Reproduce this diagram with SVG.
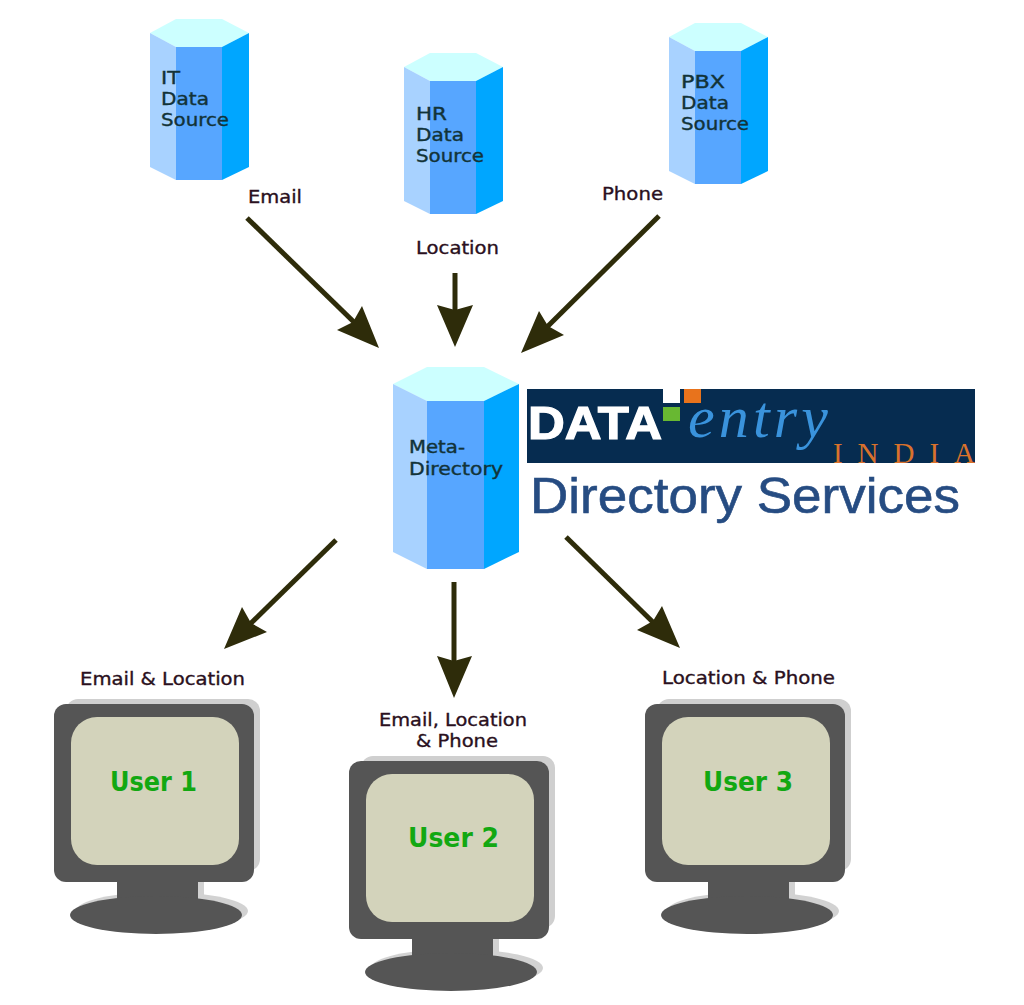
<svg xmlns="http://www.w3.org/2000/svg" width="1024" height="1005" viewBox="0 0 1024 1005">
<style>
.lbl{font-family:"DejaVu Sans","Liberation Sans",sans-serif;font-size:17.5px;fill:#2a1020;stroke:#2a1020;stroke-width:.35}
.src{font-family:"DejaVu Sans","Liberation Sans",sans-serif;font-size:18px;fill:#123338;stroke:#123338;stroke-width:.4}
.meta{font-size:17.5px}
.usr{font-family:"DejaVu Sans","Liberation Sans",sans-serif;font-size:27px;font-weight:bold;fill:#12a812}
.line{stroke:#2e2c0a;stroke-width:5;fill:none}
.head{fill:#2e2c0a}
</style>
<defs>
<g id="monitor">
<rect x="66" y="699" width="194" height="172" rx="12" fill="#cfcfcf"/>
<ellipse cx="162" cy="911" rx="86" ry="19" fill="#d2d2d2"/>
<rect x="123" y="875" width="81" height="30" fill="#d2d2d2"/>
<rect x="54" y="704" width="200" height="178" rx="12" fill="#555555"/>
<rect x="117" y="880" width="81" height="30" fill="#555555"/>
<ellipse cx="156" cy="915" rx="86" ry="19" fill="#555555"/>
<rect x="71" y="717" width="168" height="148" rx="26" fill="#d3d3bb"/>
</g>
<g id="cyl">
<polygon points="150,33 176,19 222,19 249,33 222,47 176,47" fill="#ccffff"/>
<polygon points="150,33 176,47 176,180 150,167" fill="#a8d2ff"/>
<rect x="176" y="47" width="46" height="133" fill="#57a6ff"/>
<polygon points="222,47 249,33 249,167 222,180" fill="#00a6ff"/>
</g>
</defs>
<rect width="1024" height="1005" fill="#ffffff"/>
<g id="connectors">
<line class="line" x1="247" y1="218" x2="358" y2="326"/>
<polygon class="head" points="362,306 379,348 337,330 353,322"/>
<line class="line" x1="455" y1="273" x2="455" y2="320"/>
<polygon class="head" points="437,305 455,310 473,305 455,347"/>
<line class="line" x1="659" y1="216" x2="543" y2="331"/>
<polygon class="head" points="539,311 548,326 564,335 521,353"/>
<line class="line" x1="336" y1="540" x2="244" y2="630"/>
<polygon class="head" points="242,607 251,623 267,632 224,649"/>
<line class="line" x1="454" y1="582" x2="454" y2="670"/>
<polygon class="head" points="437,656 454,661 472,656 454,698"/>
<line class="line" x1="566" y1="537" x2="662" y2="631"/>
<polygon class="head" points="662,606 653,621 637,630 680,648"/>
</g>
<g id="it-source"><use href="#cyl"/><text class="src" x="161" y="84" textLength="19" lengthAdjust="spacingAndGlyphs">IT</text><text class="src" x="161" y="105" textLength="48" lengthAdjust="spacingAndGlyphs">Data</text><text class="src" x="161" y="126" textLength="68" lengthAdjust="spacingAndGlyphs">Source</text></g>
<g id="hr-source"><use href="#cyl" transform="translate(254,34)"/><text class="src" x="416" y="120" textLength="31" lengthAdjust="spacingAndGlyphs">HR</text><text class="src" x="416" y="141" textLength="48" lengthAdjust="spacingAndGlyphs">Data</text><text class="src" x="416" y="162" textLength="68" lengthAdjust="spacingAndGlyphs">Source</text></g>
<g id="pbx-source"><use href="#cyl" transform="translate(519,4)"/><text class="src" x="681" y="88" textLength="44" lengthAdjust="spacingAndGlyphs">PBX</text><text class="src" x="681" y="109" textLength="48" lengthAdjust="spacingAndGlyphs">Data</text><text class="src" x="681" y="130" textLength="68" lengthAdjust="spacingAndGlyphs">Source</text></g>
<g id="meta-directory">
<polygon points="393,384 427,367 484,367 519,384 484,401 427,401" fill="#ccffff"/>
<polygon points="393,384 427,401 427,569 393,552" fill="#a8d2ff"/>
<rect x="427" y="401" width="57" height="168" fill="#57a6ff"/>
<polygon points="484,401 519,384 519,552 484,569" fill="#00a6ff"/>
<text class="src meta" x="409" y="453" textLength="56" lengthAdjust="spacingAndGlyphs">Meta-</text><text class="src meta" x="409" y="475" textLength="94" lengthAdjust="spacingAndGlyphs">Directory</text>
</g>
<g id="logo">
<rect x="527" y="389" width="448" height="74" fill="#062c50"/>
<rect x="663" y="389" width="17" height="14" fill="#ffffff"/>
<rect x="684" y="389" width="17" height="14" fill="#e8731c"/>
<rect x="663" y="407" width="17" height="14" fill="#68b832"/>
<text x="528" y="439" font-family="Liberation Sans,sans-serif" font-weight="bold" font-size="46" fill="#ffffff" stroke="#ffffff" stroke-width="1.2" textLength="134" lengthAdjust="spacingAndGlyphs">DATA</text>
<text x="688" y="437" font-family="Liberation Serif,serif" font-style="italic" font-size="60" fill="#3a93dc" textLength="140">entry</text>
<text x="833" y="463" font-family="Liberation Serif,serif" font-size="29" fill="#d9722c" textLength="142">INDIA</text>
</g>
<text id="title" x="530" y="513" font-family="Liberation Sans,sans-serif" font-size="50" fill="#264c82" stroke="#264c82" stroke-width=".6" textLength="430" lengthAdjust="spacingAndGlyphs">Directory Services</text>
<g id="labels">
<text class="lbl" x="248" y="203" textLength="54" lengthAdjust="spacingAndGlyphs">Email</text>
<text class="lbl" x="416" y="254" textLength="83" lengthAdjust="spacingAndGlyphs">Location</text>
<text class="lbl" x="602" y="200" textLength="61" lengthAdjust="spacingAndGlyphs">Phone</text>
<text class="lbl" x="80" y="685" textLength="165" lengthAdjust="spacingAndGlyphs">Email &amp; Location</text>
<text class="lbl" x="379" y="726" textLength="148" lengthAdjust="spacingAndGlyphs">Email, Location</text>
<text class="lbl" x="416" y="747" textLength="82" lengthAdjust="spacingAndGlyphs">&amp; Phone</text>
<text class="lbl" x="662" y="684" textLength="173" lengthAdjust="spacingAndGlyphs">Location &amp; Phone</text>
</g>
<g id="user-1"><use href="#monitor"/><text class="usr" x="110" y="791" textLength="87" lengthAdjust="spacingAndGlyphs">User 1</text></g>
<g id="user-2"><use href="#monitor" transform="translate(295,57)"/><text class="usr" x="408" y="847" textLength="91" lengthAdjust="spacingAndGlyphs">User 2</text></g>
<g id="user-3"><use href="#monitor" transform="translate(591,0)"/><text class="usr" x="703" y="791" textLength="90" lengthAdjust="spacingAndGlyphs">User 3</text></g>
</svg>
